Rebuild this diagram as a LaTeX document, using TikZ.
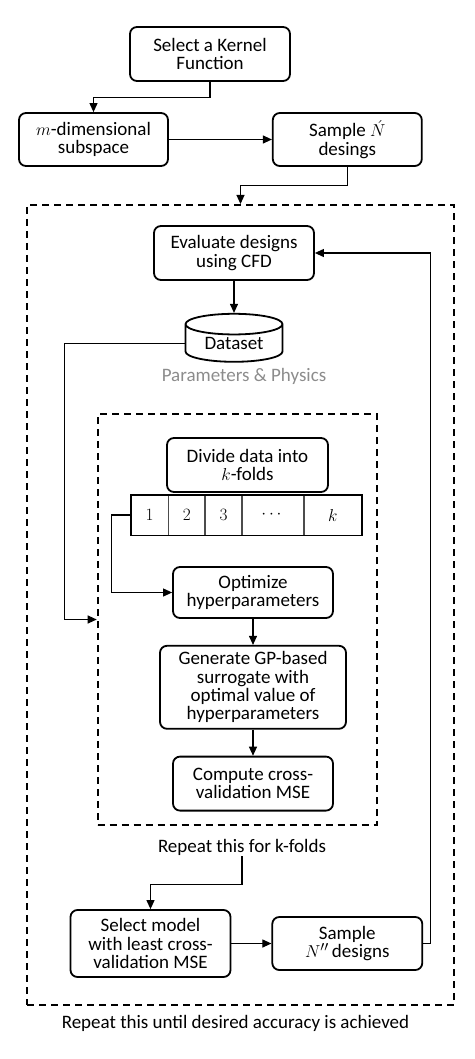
\documentclass[tikz,border=0pt]{standalone}
\usepackage{amsmath}
\usepackage{fontspec}
\setmainfont{Carlito}
\usepackage{tikz}
\usetikzlibrary{arrows.meta,positioning,shapes.geometric,fit}

\begin{document}
\begin{tikzpicture}[
  font=\fontsize{19}{18.4}\selectfont,
  box/.style={draw,line width=1.8pt,rounded corners=7pt,align=center,minimum width=160pt,minimum height=54pt,inner sep=2pt,fill=white},
  db/.style={cylinder,shape border rotate=90,draw,line width=1.8pt,aspect=0.35,minimum width=97pt,minimum height=48pt,inner sep=0pt},
  zone/.style={draw,line width=2pt,dash pattern=on 7pt off 5pt,inner sep=0pt},
  fold/.style={draw=black!70,line width=0.8pt,minimum height=40pt,inner sep=0pt},
  strip/.style={draw,line width=1.8pt,inner sep=0pt,fit=#1},
  arrow/.style={-{Triangle[length=9pt,width=8pt]},line width=1.1pt},
  lbl/.style={align=center,inner sep=1pt}
]
\useasboundingbox (0,0) rectangle (474pt,-1059pt);

% --- Top: kernel and sampling ---
\node[box]                                          (kernel)  at (210pt,-54pt) {Select a Kernel\\Function};
\node[box, minimum width=149pt, minimum height=53pt] (subsp)   at (93.5pt,-139.5pt) {$m$-dimensional\\subspace};
\node[box, minimum width=149pt, minimum height=53pt, right=103pt of subsp] (sample1) {Sample $\acute{N}$\\desings};

% --- Outer loop ---
\node[zone, minimum width=427pt, minimum height=800pt] (outer) at (240.5pt,-605pt) {};
\node[box]                       (eval)   at (234pt,-253pt) {Evaluate designs\\using CFD};
\node[db, below=32pt of eval]    (data)   {Dataset};
\node[lbl, text=black!45, below=4pt of data, xshift=10pt] (params) {Parameters \& Physics};

% --- Inner loop (k-folds) ---
\node[zone, minimum width=279pt, minimum height=411pt] (inner) at (237.2pt,-619.5pt) {};
\node[box, minimum width=161pt]  (divide) at (247.5pt,-465pt) {Divide data into\\$k$-folds};
\node[fold, minimum width=37pt]  (f1) at (149.5pt,-515pt) {$1$};
\node[fold, minimum width=36pt, right=0pt of f1] (f2) {$2$};
\node[fold, minimum width=36pt, right=0pt of f2] (f3) {$3$};
\node[fold, minimum width=61pt, right=0pt of f3] (f4) {$\cdots$};
\node[fold, minimum width=57pt, right=0pt of f4] (f5) {$k$};
\node[strip={(f1) (f5)}] (folds) {};

\node[box, minimum height=51pt]  (optim)   at (253pt,-592.5pt) {Optimize\\hyperparameters};
\node[box, minimum width=186pt, minimum height=83pt, below=26pt of optim] (gener) {Generate GP-based\\surrogate with\\optimal value of\\hyperparameters};
\node[box, below=26pt of gener]  (compute) {Compute cross-\\validation MSE};
\node[lbl]                       (repk)    at (242pt,-847pt) {Repeat this for k-folds};

% --- Model selection ---
\node[box, minimum height=67pt]  (select)  at (150.5pt,-943.5pt) {Select model\\with least cross-\\validation MSE};
\node[box, minimum width=150pt, minimum height=53pt, right=40pt of select] (sample2) {Sample\\$N''$\,designs};
\node[lbl]                       (repacc)  at (235.5pt,-1023pt) {Repeat this until desired accuracy is achieved};

% --- Flows ---
\draw[arrow] (kernel.south) -- ++(0,-16pt) -| (subsp.north);
\draw[arrow] (subsp) -- (sample1);
\draw[arrow] (sample1.south) -- ++(0,-19pt) -| (outer.north);
\draw[arrow] (eval) -- (data);
\draw[arrow] (data.west) -- ++(-120pt,0) |- (inner.west);
\draw[arrow] (f1.west) -- ++(-19pt,0) |- (optim.west);
\draw[arrow] (optim) -- (gener);
\draw[arrow] (gener) -- (compute);
\draw[arrow] (repk.south) -- ++(0,-28pt) -| (select.north);
\draw[arrow] (select) -- (sample2);
\draw[arrow] (sample2.east) -- ++(7pt,0) |- (eval.east);
\end{tikzpicture}
\end{document}
